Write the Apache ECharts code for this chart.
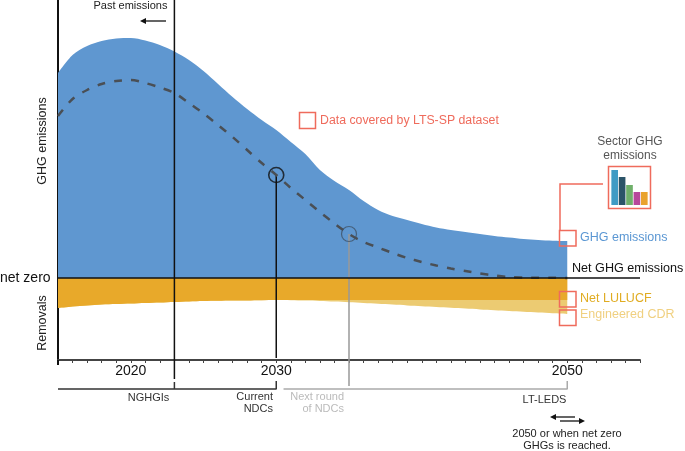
<!DOCTYPE html>
<html>
<head>
<meta charset="utf-8">
<style>html,body{margin:0;padding:0;background:#fff}#c{width:685px;height:451px}</style>
<script src="https://cdn.jsdelivr.net/npm/echarts@6/dist/echarts.min.js"></script>
</head>
<body>
<div id="c"></div>
<script>
const years = [2015,2016,2017,2018,2019,2020,2021,2022,2023,2024,2025,2026,2027,2028,2029,2030,2031,2032,2033,2034,2035,2036,2037,2038,2039,2040,2041,2042,2043,2044,2045,2046,2047,2048,2049,2050];
const ghgEmissions = [205,223,232,237,239.5,240,237.5,233,226.5,218,207,194,181,169,158,148,136,124,108,97,88,77,68,62,58,54,50.5,48,46,44,42,40.5,39,38,37.3,37];
const netGhg = [162,179,188,194,197,198,195,190.5,185,175,164.5,153,141,128,115,103,90,78,66,54.5,44,36,30.5,25,20,16,12.5,9.5,7,4.5,2.5,1,0.5,0.3,0.2,0];
const netLulucf = [-30,-28.5,-27.5,-26.5,-26,-25.5,-25,-24.5,-24,-23.5,-23,-22.8,-22.6,-22.4,-22.2,-22,-22,-22,-22,-22,-22,-22,-22,-22,-22,-22,-22,-22,-22,-22,-22,-22,-22,-22,-22,-22];
const engineeredCdr = [-30,-28.5,-27.5,-26.5,-26,-25.5,-25,-24.5,-24,-23.5,-23,-22.8,-22.6,-22.4,-22.2,-22.1,-22.2,-22.5,-23,-23.6,-24.3,-25,-25.8,-26.6,-27.4,-28.2,-29,-29.8,-30.6,-31.4,-32.2,-33,-33.8,-34.6,-35.3,-36];
const tickLabels = [2020,2030,2050];
const sectorNames = ['a','b','c','d','e'];
const sectorValues = [35,28,20,13,13];
const sectorColors = ['#3f9bc4','#2b5468','#6fb06a','#b7489b','#e9a22e'];
const zip = a => years.map((y,i)=>[y,a[i]]);
const RED = '#ef6b5c';
const FONT = '"Liberation Sans", Arial, sans-serif';

function seg(name, pts, color, width, z){
  return {name, type:'line', data:pts, showSymbol:false, symbol:'none', clip:false, silent:true, z:z||5,
    lineStyle:{color, width, cap:'butt'}};
}
function T(text,x,y,size,fill,align,rot){
  return {type:'text', x, y, rotation:rot||0, z:20, style:{text, fill, font:size+'px '+FONT, textAlign:align||'center', textVerticalAlign:'middle'}};
}
function box(x,y,w,h){
  return {type:'rect', z:20, shape:{x,y,width:w,height:h}, style:{fill:'none', stroke:RED, lineWidth:1.5}};
}
function arrow(x1,x2,y){
  const d = x2>x1?1:-1;
  return [
    {type:'line', z:20, shape:{x1,y1:y,x2:x2-d*4,y2:y}, style:{stroke:'#111',lineWidth:1.3}},
    {type:'polygon', z:20, shape:{points:[[x2,y],[x2-d*6,y-3],[x2-d*6,y+3]]}, style:{fill:'#111'}}
  ];
}

const chart = echarts.init(document.getElementById('c'), null, {renderer:'canvas'});
chart.setOption({
  animation:false,
  backgroundColor:'#fff',
  grid:[
    {left:58, top:0, width:582, height:360},
    {left:611, top:170, width:37, height:35}
  ],
  xAxis:[
    {type:'value', gridIndex:0, min:2015, max:2055, interval:1, position:'bottom',
     axisLine:{onZero:false, lineStyle:{color:'#444', width:2}},
     axisTick:{show:true, length:3, lineStyle:{color:'#444', width:1}},
     splitLine:{show:false},
     axisLabel:{show:true, margin:4, color:'#111', fontSize:14, fontFamily:FONT, showMinLabel:true, showMaxLabel:true,
       formatter:v=>tickLabels.includes(v)?String(v):''}},
    {type:'category', gridIndex:1, data:sectorNames, show:false}
  ],
  yAxis:[
    {type:'value', gridIndex:0, min:-82, max:278,
     axisLine:{show:true, onZero:false, lineStyle:{color:'#111', width:2}},
     axisTick:{show:false}, axisLabel:{show:false}, splitLine:{show:false}},
    {type:'value', gridIndex:1, min:0, max:35, show:false}
  ],
  series:[
    {name:'GHG emissions', type:'line', data:zip(ghgEmissions), smooth:0.3, symbol:'none', z:2,
     lineStyle:{width:0}, areaStyle:{color:'#5f97d0', opacity:1, origin:0}},
    {name:'Engineered CDR', type:'line', data:zip(engineeredCdr), smooth:0.3, symbol:'none', z:2,
     lineStyle:{width:0}, areaStyle:{color:'#eccb72', opacity:1, origin:0}},
    {name:'Net LULUCF', type:'line', data:zip(netLulucf), smooth:0.3, symbol:'none', z:3,
     lineStyle:{width:0}, areaStyle:{color:'#e8a92a', opacity:1, origin:0}},
    {name:'Net GHG emissions', type:'line', data:zip(netGhg), smooth:0.3, symbol:'none', z:6,
     lineStyle:{color:'#4a4f55', width:2.5, type:[8,9]}},
    seg('Net zero', [[2015,0],[2055,0]], '#111', 1.5, 7),
    seg('NGHGI edge', [[2023,278],[2023,-101]], '#111', 1.5),
    seg('Axis start', [[2015,-82],[2015,-87]], '#111', 2),
    seg('Current NDC', [[2030,103],[2030,-80]], '#111', 1.5),
    seg('Next NDC', [[2035,44],[2035,-108]], '#999', 1.5),
    seg('NGHGI bracket', [[2015,-111],[2030,-111],[2030,-103]], '#333', 1.5),
    seg('NGHGI tick', [[2023,-111],[2023,-104]], '#333', 1.5),
    seg('LEDS bracket', [[2030.5,-111],[2050,-111],[2050,-103]], '#aaa', 1.5),
    {name:'Milestones', type:'scatter', data:[[2030,103]], symbol:'circle', symbolSize:15, z:8, silent:true,
     itemStyle:{color:'rgba(0,0,0,0)', borderColor:'#111', borderWidth:1.6}},
    {name:'Milestones 2', type:'scatter', data:[[2035,44]], symbol:'circle', symbolSize:15, z:8, silent:true,
     itemStyle:{color:'rgba(0,0,0,0)', borderColor:'#3f5268', borderWidth:1.2}},
    {name:'Sector GHG', type:'bar', xAxisIndex:1, yAxisIndex:1, barCategoryGap:'10%', z:10,
     data:sectorValues.map((v,i)=>({value:v, itemStyle:{color:sectorColors[i]}}))}
  ],
  graphic:[
    T('Past emissions',130.5,6,11,'#222'),
    ...arrow(166,140,21),
    T('GHG emissions',43,141,12.5,'#222','center',Math.PI/2),
    T('Removals',43,323,12.5,'#222','center',Math.PI/2),
    T('net zero',0,278,14,'#111','left'),
    T('NGHGIs',148.5,398,11,'#333'),
    T('Current',273,397,11,'#333','right'),
    T('NDCs',273,409,11,'#333','right'),
    T('Next round',344,397,11,'#bbb','right'),
    T('of NDCs',344,409,11,'#bbb','right'),
    T('LT-LEDS',544.5,400,11,'#333'),
    ...arrow(575,550,417),
    ...arrow(560,585,421),
    T('2050 or when net zero',567,434,11,'#222'),
    T('GHGs is reached.',567,446,11,'#222'),
    box(299.5,112.5,16,16),
    T('Data covered by LTS-SP dataset',320,120.5,12.3,RED,'left'),
    T('Sector GHG',630,142,12,'#555'),
    T('emissions',630,156,12,'#555'),
    box(608.5,166.5,42,42),
    {type:'polyline', z:20, shape:{points:[[560,230],[560,184],[603,184]]}, style:{fill:'none',stroke:RED,lineWidth:1.5}},
    box(559.5,230.5,16.5,15.5),
    box(559.5,291.5,16.5,15.5),
    box(559.5,310,16.5,15.5),
    T('GHG emissions',580,238,12.5,'#5b97d3','left'),
    T('Net GHG emissions',572,269,12.6,'#111','left'),
    T('Net LULUCF',580,299,12.5,'#e0ac22','left'),
    T('Engineered CDR',580,315,12.5,'#f0d080','left')
  ]
});
</script>
</body>
</html>
